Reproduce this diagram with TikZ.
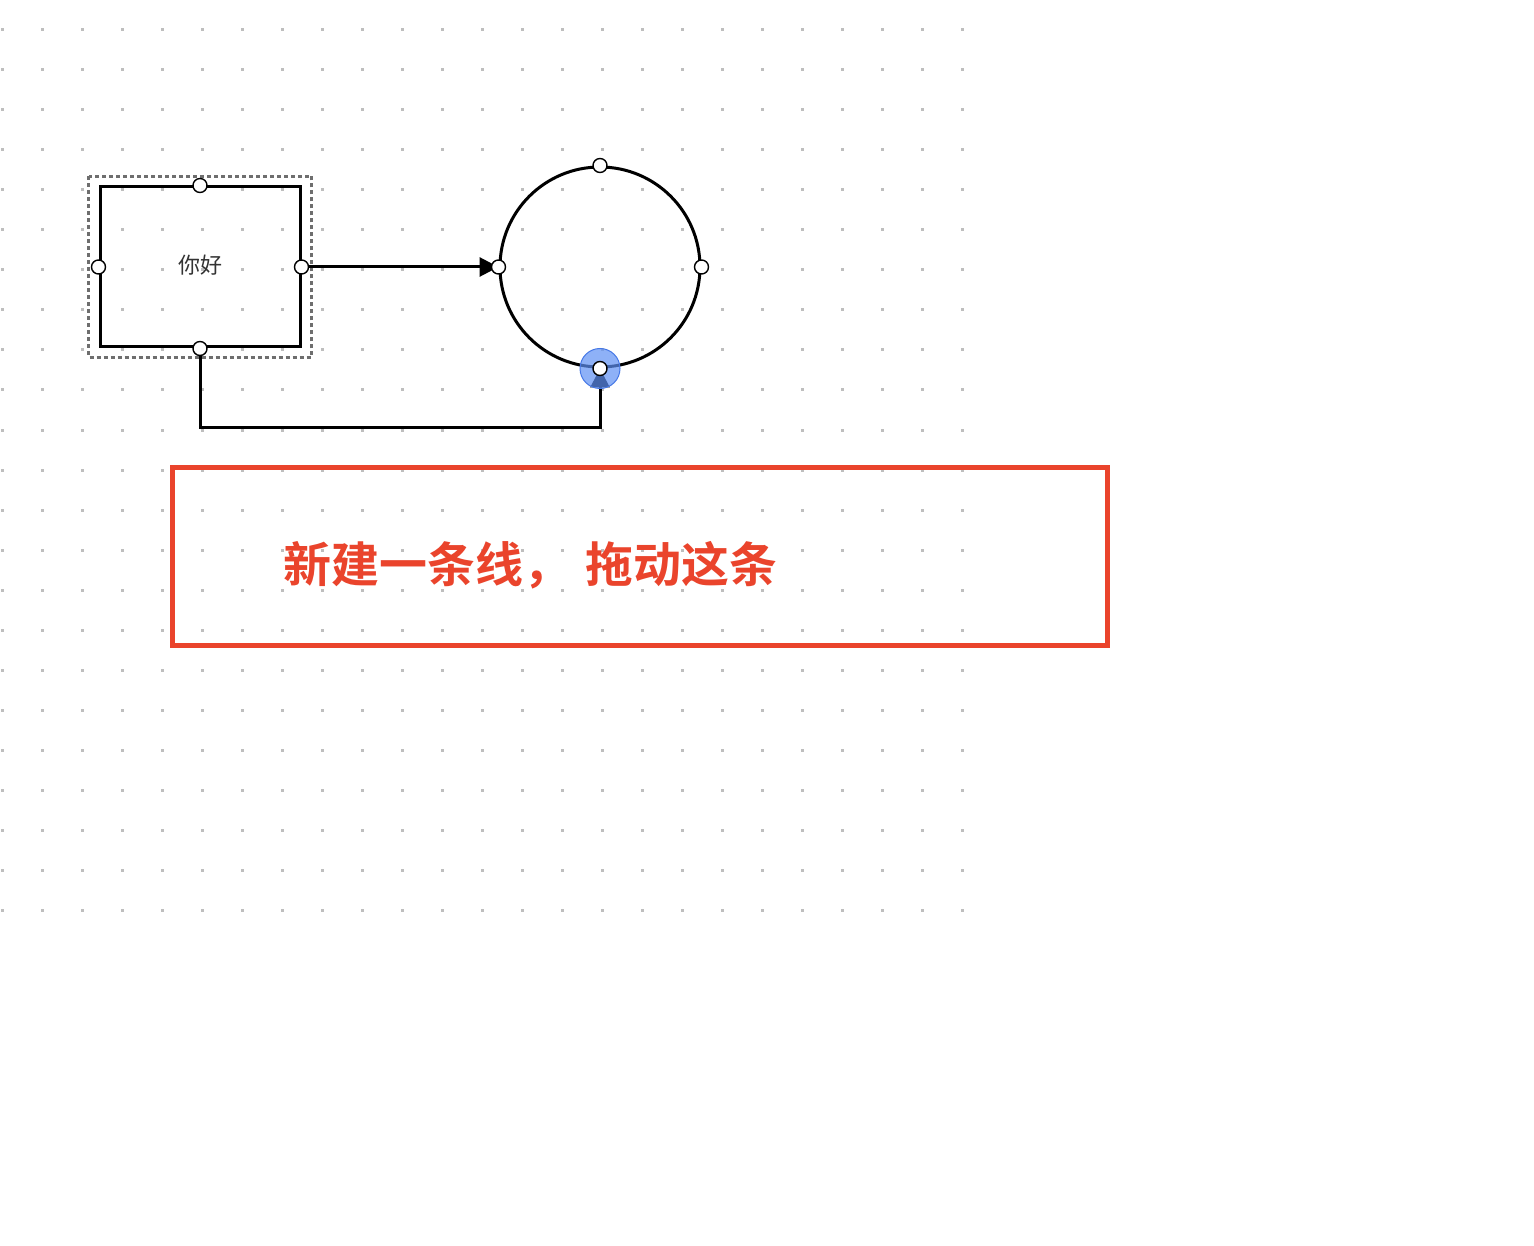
\documentclass[tikz,border=0pt]{standalone}
\usepackage{fontspec}
\newfontfamily\cjk{Noto Sans CJK SC}
\newfontfamily\cjkbold{Noto Sans CJK SC Bold}
\usetikzlibrary{arrows.meta}
\definecolor{dotgray}{RGB}{190,190,190}
\definecolor{annored}{RGB}{234,68,44}
\definecolor{selgray}{RGB}{110,110,110}
\definecolor{hlblue}{RGB}{95,145,245}
\definecolor{hledge}{RGB}{70,120,230}
\tikzset{
  shapeline/.style={draw=black, line width=3pt},
  port/.style={circle, draw=black, fill=white, line width=1.4pt, minimum size=14pt, inner sep=0pt},
  conn/.style={draw=black, line width=3pt, -{Triangle[length=19pt,width=19pt]}},
}
\begin{document}
\begin{tikzpicture}[x=1pt,y=-1pt]
\useasboundingbox (0,0) rectangle (1534,1246);
\fill[white] (0,0) rectangle (1534,1246);
% dot grid
\foreach \i in {0,...,24}{
  \foreach \j in {0,...,22}{
    \fill[dotgray] (0.5+40*\i,28.5+40*\j) rectangle ++(3,3);
  }
}
% shapes
\node[shapeline, rectangle, minimum width=200pt, minimum height=160pt, inner sep=0pt] (box) at (200,267) {};
\node[font=\cjk\fontsize{22}{26}\selectfont, text=black!80] (lbl) at (200,265) {你好};
\node[shapeline, circle, minimum size=200pt, inner sep=0pt] (circ) at (600,267) {};
% selection
\draw[selgray, line width=3pt, dash pattern=on 4pt off 3pt]
  ([shift={(-10,-9)}]box.north west) rectangle ([shift={(10,9)}]box.south east);
% connectors
\draw[conn] (box.east) -- (circ.west);
\coordinate (bend) at (200,427);
\draw[conn] (box.south) -- (bend) -| (circ.south);
% highlight
\node[circle, minimum size=40pt, inner sep=0pt, fill=hlblue, fill opacity=0.7, draw=hledge, line width=1pt] (hl) at (circ.south) {};
% ports
\node[port] (pbt) at (box.north) {};
\node[port] (pbl) at (box.west) {};
\node[port] (pbr) at (box.east) {};
\node[port] (pbb) at (box.south) {};
\node[port] (pct) at (circ.north) {};
\node[port] (pcl) at (circ.west) {};
\node[port] (pcr) at (circ.east) {};
\node[port] (pcb) at (circ.south) {};
% annotation
\node[draw=annored, line width=5pt, rectangle, minimum width=935pt, minimum height=178pt, inner sep=0pt] (anno) at (640,556.5) {};
\node[anchor=west, inner sep=0pt, text=annored, font=\cjkbold\fontsize{48}{56}\selectfont] (note) at (283,565) {新建一条线，\hspace{14pt}拖动这条};
\end{tikzpicture}
\end{document}
